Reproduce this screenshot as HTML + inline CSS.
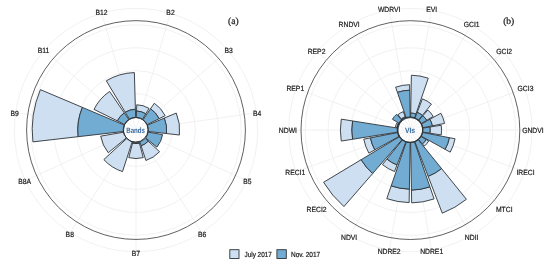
<!DOCTYPE html>
<html><head><meta charset="utf-8"><title>Polar charts</title>
<style>html,body{margin:0;padding:0;background:#fff}svg{display:block}text{text-rendering:geometricPrecision}</style>
</head><body>
<svg width="550" height="269" viewBox="0 0 550 269" font-family="Liberation Sans, Arial, sans-serif">
<rect width="550" height="269" fill="#fff"/>
<circle cx="136.0" cy="130.05" r="105.2" fill="none" stroke="#eeeeee" stroke-width="0.8"/>
<circle cx="136.0" cy="130.05" r="82.3" fill="none" stroke="#eeeeee" stroke-width="0.8"/>
<circle cx="136.0" cy="130.05" r="59.4" fill="none" stroke="#eeeeee" stroke-width="0.8"/>
<circle cx="136.0" cy="130.05" r="36.4" fill="none" stroke="#eeeeee" stroke-width="0.8"/>
<circle cx="136.0" cy="130.05" r="13.5" fill="none" stroke="#eeeeee" stroke-width="0.8"/>
<circle cx="136.0" cy="130.05" r="121.7" fill="none" stroke="#eeeeee" stroke-width="0.8"/>
<line x1="136.0" y1="130.05" x2="170.29" y2="13.28" stroke="#eeeeee" stroke-width="0.8"/>
<line x1="136.0" y1="130.05" x2="227.97" y2="50.35" stroke="#eeeeee" stroke-width="0.8"/>
<line x1="136.0" y1="130.05" x2="256.46" y2="112.73" stroke="#eeeeee" stroke-width="0.8"/>
<line x1="136.0" y1="130.05" x2="246.70" y2="180.61" stroke="#eeeeee" stroke-width="0.8"/>
<line x1="136.0" y1="130.05" x2="201.80" y2="232.43" stroke="#eeeeee" stroke-width="0.8"/>
<line x1="136.0" y1="130.05" x2="136.00" y2="251.75" stroke="#eeeeee" stroke-width="0.8"/>
<line x1="136.0" y1="130.05" x2="70.20" y2="232.43" stroke="#eeeeee" stroke-width="0.8"/>
<line x1="136.0" y1="130.05" x2="25.30" y2="180.61" stroke="#eeeeee" stroke-width="0.8"/>
<line x1="136.0" y1="130.05" x2="15.54" y2="112.73" stroke="#eeeeee" stroke-width="0.8"/>
<line x1="136.0" y1="130.05" x2="44.03" y2="50.35" stroke="#eeeeee" stroke-width="0.8"/>
<line x1="136.0" y1="130.05" x2="101.71" y2="13.28" stroke="#eeeeee" stroke-width="0.8"/>
<path d="M136.54,111.06L136.72,104.76A25.30,25.30 0 0 1 149.06,108.38L145.81,113.78A19.00,19.00 0 0 0 136.54,111.06Z" fill="#cddff1" stroke="#2e3338" stroke-width="0.9" stroke-linejoin="round"/>
<path d="M136.35,117.66L136.54,111.06A19.00,19.00 0 0 1 145.81,113.78L142.40,119.43A12.40,12.40 0 0 0 136.35,117.66Z" fill="#72acd3" stroke="#2e3338" stroke-width="0.9" stroke-linejoin="round"/>
<path d="M150.56,108.75L154.34,103.22A32.50,32.50 0 0 1 165.17,115.71L159.15,118.67A25.80,25.80 0 0 0 150.56,108.75Z" fill="#cddff1" stroke="#2e3338" stroke-width="0.9" stroke-linejoin="round"/>
<path d="M143.00,119.81L150.56,108.75A25.80,25.80 0 0 1 159.15,118.67L147.13,124.58A12.40,12.40 0 0 0 143.00,119.81Z" fill="#72acd3" stroke="#2e3338" stroke-width="0.9" stroke-linejoin="round"/>
<path d="M164.28,118.10L176.25,113.04A43.70,43.70 0 0 1 179.42,135.03L166.50,133.55A30.70,30.70 0 0 0 164.28,118.10Z" fill="#cddff1" stroke="#2e3338" stroke-width="0.9" stroke-linejoin="round"/>
<path d="M147.42,125.22L164.28,118.10A30.70,30.70 0 0 1 166.50,133.55L148.32,131.46A12.40,12.40 0 0 0 147.42,125.22Z" fill="#72acd3" stroke="#2e3338" stroke-width="0.9" stroke-linejoin="round"/>
<path d="M148.22,132.16L162.60,134.65A27.00,27.00 0 0 1 156.90,147.14L145.60,137.90A12.40,12.40 0 0 0 148.22,132.16Z" fill="#72acd3" stroke="#2e3338" stroke-width="0.9" stroke-linejoin="round"/>
<path d="M148.16,141.21L159.58,151.69A32.00,32.00 0 0 1 145.89,160.48L141.10,145.74A16.50,16.50 0 0 0 148.16,141.21Z" fill="#cddff1" stroke="#2e3338" stroke-width="0.9" stroke-linejoin="round"/>
<path d="M145.14,138.43L148.16,141.21A16.50,16.50 0 0 1 141.10,145.74L139.83,141.84A12.40,12.40 0 0 0 145.14,138.43Z" fill="#72acd3" stroke="#2e3338" stroke-width="0.9" stroke-linejoin="round"/>
<path d="M139.43,143.11L143.25,157.61A28.50,28.50 0 0 1 128.75,157.61L132.57,143.11A13.50,13.50 0 0 0 139.43,143.11Z" fill="#cddff1" stroke="#2e3338" stroke-width="0.9" stroke-linejoin="round"/>
<path d="M139.15,142.04L139.43,143.11A13.50,13.50 0 0 1 132.57,143.11L132.85,142.04A12.40,12.40 0 0 0 139.15,142.04Z" fill="#72acd3" stroke="#2e3338" stroke-width="0.9" stroke-linejoin="round"/>
<path d="M132.17,141.84L122.50,171.61A43.70,43.70 0 0 1 103.80,159.60L126.86,138.43A12.40,12.40 0 0 0 132.17,141.84Z" fill="#cddff1" stroke="#2e3338" stroke-width="0.9" stroke-linejoin="round"/>
<path d="M126.40,137.90L108.29,152.71A35.80,35.80 0 0 1 100.72,136.15L123.78,132.16A12.40,12.40 0 0 0 126.40,137.90Z" fill="#cddff1" stroke="#2e3338" stroke-width="0.9" stroke-linejoin="round"/>
<path d="M78.18,136.68L32.88,141.88A103.80,103.80 0 0 1 40.39,89.64L82.39,107.39A58.20,58.20 0 0 0 78.18,136.68Z" fill="#cddff1" stroke="#2e3338" stroke-width="0.9" stroke-linejoin="round"/>
<path d="M123.68,131.46L78.18,136.68A58.20,58.20 0 0 1 82.39,107.39L124.58,125.22A12.40,12.40 0 0 0 123.68,131.46Z" fill="#72acd3" stroke="#2e3338" stroke-width="0.9" stroke-linejoin="round"/>
<path d="M117.33,120.87L94.00,109.40A46.80,46.80 0 0 1 109.58,91.42L124.26,112.88A20.80,20.80 0 0 0 117.33,120.87Z" fill="#cddff1" stroke="#2e3338" stroke-width="0.9" stroke-linejoin="round"/>
<path d="M124.87,124.58L117.33,120.87A20.80,20.80 0 0 1 124.26,112.88L129.00,119.81A12.40,12.40 0 0 0 124.87,124.58Z" fill="#72acd3" stroke="#2e3338" stroke-width="0.9" stroke-linejoin="round"/>
<path d="M125.26,112.24L106.31,80.81A57.50,57.50 0 0 1 134.36,72.57L135.41,109.26A20.80,20.80 0 0 0 125.26,112.24Z" fill="#cddff1" stroke="#2e3338" stroke-width="0.9" stroke-linejoin="round"/>
<path d="M129.60,119.43L125.26,112.24A20.80,20.80 0 0 1 135.41,109.26L135.65,117.66A12.40,12.40 0 0 0 129.60,119.43Z" fill="#72acd3" stroke="#2e3338" stroke-width="0.9" stroke-linejoin="round"/>
<circle cx="136.0" cy="130.05" r="109.4" fill="none" stroke="#444444" stroke-width="0.85"/>
<circle cx="135.6" cy="129.70000000000002" r="12.4" fill="none" stroke="#2e3338" stroke-width="1.0"/>
<text x="135.60" y="132.75" text-anchor="middle" font-size="7.8" font-weight="bold" fill="#3b6ea3" textLength="18.8" lengthAdjust="spacingAndGlyphs">Bands</text>
<text x="170.51" y="15.03" text-anchor="middle" font-size="7.5" fill="#1c1c1c" stroke="#1c1c1c" stroke-width="0.22" textLength="8.30" lengthAdjust="spacingAndGlyphs">B2</text>
<text x="228.58" y="52.50" text-anchor="middle" font-size="7.5" fill="#1c1c1c" stroke="#1c1c1c" stroke-width="0.22" textLength="8.30" lengthAdjust="spacingAndGlyphs">B3</text>
<text x="257.25" y="115.55" text-anchor="middle" font-size="7.5" fill="#1c1c1c" stroke="#1c1c1c" stroke-width="0.22" textLength="8.30" lengthAdjust="spacingAndGlyphs">B4</text>
<text x="247.43" y="184.15" text-anchor="middle" font-size="7.5" fill="#1c1c1c" stroke="#1c1c1c" stroke-width="0.22" textLength="8.30" lengthAdjust="spacingAndGlyphs">B5</text>
<text x="202.23" y="236.52" text-anchor="middle" font-size="7.5" fill="#1c1c1c" stroke="#1c1c1c" stroke-width="0.22" textLength="8.30" lengthAdjust="spacingAndGlyphs">B6</text>
<text x="136.00" y="256.05" text-anchor="middle" font-size="7.5" fill="#1c1c1c" stroke="#1c1c1c" stroke-width="0.22" textLength="8.30" lengthAdjust="spacingAndGlyphs">B7</text>
<text x="69.77" y="236.52" text-anchor="middle" font-size="7.5" fill="#1c1c1c" stroke="#1c1c1c" stroke-width="0.22" textLength="8.30" lengthAdjust="spacingAndGlyphs">B8</text>
<text x="24.57" y="184.15" text-anchor="middle" font-size="7.5" fill="#1c1c1c" stroke="#1c1c1c" stroke-width="0.22" textLength="12.83" lengthAdjust="spacingAndGlyphs">B8A</text>
<text x="14.75" y="115.55" text-anchor="middle" font-size="7.5" fill="#1c1c1c" stroke="#1c1c1c" stroke-width="0.22" textLength="8.30" lengthAdjust="spacingAndGlyphs">B9</text>
<text x="43.42" y="52.50" text-anchor="middle" font-size="7.5" fill="#1c1c1c" stroke="#1c1c1c" stroke-width="0.22" textLength="11.57" lengthAdjust="spacingAndGlyphs">B11</text>
<text x="101.49" y="15.03" text-anchor="middle" font-size="7.5" fill="#1c1c1c" stroke="#1c1c1c" stroke-width="0.22" textLength="12.08" lengthAdjust="spacingAndGlyphs">B12</text>
<circle cx="410.4" cy="130.1" r="105.2" fill="none" stroke="#eeeeee" stroke-width="0.8"/>
<circle cx="410.4" cy="130.1" r="82.3" fill="none" stroke="#eeeeee" stroke-width="0.8"/>
<circle cx="410.4" cy="130.1" r="59.4" fill="none" stroke="#eeeeee" stroke-width="0.8"/>
<circle cx="410.4" cy="130.1" r="36.4" fill="none" stroke="#eeeeee" stroke-width="0.8"/>
<circle cx="410.4" cy="130.1" r="13.5" fill="none" stroke="#eeeeee" stroke-width="0.8"/>
<circle cx="410.4" cy="130.1" r="121.7" fill="none" stroke="#eeeeee" stroke-width="0.8"/>
<line x1="410.4" y1="130.1" x2="431.53" y2="10.25" stroke="#eeeeee" stroke-width="0.8"/>
<line x1="410.4" y1="130.1" x2="471.25" y2="24.70" stroke="#eeeeee" stroke-width="0.8"/>
<line x1="410.4" y1="130.1" x2="503.63" y2="51.87" stroke="#eeeeee" stroke-width="0.8"/>
<line x1="410.4" y1="130.1" x2="524.76" y2="88.48" stroke="#eeeeee" stroke-width="0.8"/>
<line x1="410.4" y1="130.1" x2="532.10" y2="130.10" stroke="#eeeeee" stroke-width="0.8"/>
<line x1="410.4" y1="130.1" x2="524.76" y2="171.72" stroke="#eeeeee" stroke-width="0.8"/>
<line x1="410.4" y1="130.1" x2="503.63" y2="208.33" stroke="#eeeeee" stroke-width="0.8"/>
<line x1="410.4" y1="130.1" x2="471.25" y2="235.50" stroke="#eeeeee" stroke-width="0.8"/>
<line x1="410.4" y1="130.1" x2="431.53" y2="249.95" stroke="#eeeeee" stroke-width="0.8"/>
<line x1="410.4" y1="130.1" x2="389.27" y2="249.95" stroke="#eeeeee" stroke-width="0.8"/>
<line x1="410.4" y1="130.1" x2="349.55" y2="235.50" stroke="#eeeeee" stroke-width="0.8"/>
<line x1="410.4" y1="130.1" x2="317.17" y2="208.33" stroke="#eeeeee" stroke-width="0.8"/>
<line x1="410.4" y1="130.1" x2="296.04" y2="171.72" stroke="#eeeeee" stroke-width="0.8"/>
<line x1="410.4" y1="130.1" x2="288.70" y2="130.10" stroke="#eeeeee" stroke-width="0.8"/>
<line x1="410.4" y1="130.1" x2="296.04" y2="88.48" stroke="#eeeeee" stroke-width="0.8"/>
<line x1="410.4" y1="130.1" x2="317.17" y2="51.87" stroke="#eeeeee" stroke-width="0.8"/>
<line x1="410.4" y1="130.1" x2="349.55" y2="24.70" stroke="#eeeeee" stroke-width="0.8"/>
<line x1="410.4" y1="130.1" x2="389.27" y2="10.25" stroke="#eeeeee" stroke-width="0.8"/>
<path d="M410.70,113.10L411.36,75.21A54.90,54.90 0 0 1 428.27,78.19L415.93,114.03A17.00,17.00 0 0 0 410.70,113.10Z" fill="#cddff1" stroke="#2e3338" stroke-width="0.9" stroke-linejoin="round"/>
<path d="M410.62,117.70L410.70,113.10A17.00,17.00 0 0 1 415.93,114.03L414.44,118.38A12.40,12.40 0 0 0 410.62,117.70Z" fill="#72acd3" stroke="#2e3338" stroke-width="0.9" stroke-linejoin="round"/>
<path d="M417.21,112.36L422.41,98.83A33.50,33.50 0 0 1 431.48,104.07L422.36,115.33A19.00,19.00 0 0 0 417.21,112.36Z" fill="#cddff1" stroke="#2e3338" stroke-width="0.9" stroke-linejoin="round"/>
<path d="M414.84,118.52L417.21,112.36A19.00,19.00 0 0 1 422.36,115.33L418.20,120.46A12.40,12.40 0 0 0 414.84,118.52Z" fill="#72acd3" stroke="#2e3338" stroke-width="0.9" stroke-linejoin="round"/>
<path d="M422.87,115.76L427.85,110.02A26.60,26.60 0 0 1 433.20,116.40L426.69,120.31A19.00,19.00 0 0 0 422.87,115.76Z" fill="#cddff1" stroke="#2e3338" stroke-width="0.9" stroke-linejoin="round"/>
<path d="M418.54,120.74L422.87,115.76A19.00,19.00 0 0 1 426.69,120.31L421.03,123.71A12.40,12.40 0 0 0 418.54,120.74Z" fill="#72acd3" stroke="#2e3338" stroke-width="0.9" stroke-linejoin="round"/>
<path d="M429.90,119.29L440.84,113.23A34.80,34.80 0 0 1 444.56,123.46L432.29,125.84A22.30,22.30 0 0 0 429.90,119.29Z" fill="#cddff1" stroke="#2e3338" stroke-width="0.9" stroke-linejoin="round"/>
<path d="M421.25,124.09L429.90,119.29A22.30,22.30 0 0 1 432.29,125.84L422.57,127.73A12.40,12.40 0 0 0 421.25,124.09Z" fill="#72acd3" stroke="#2e3338" stroke-width="0.9" stroke-linejoin="round"/>
<path d="M429.86,127.02L441.22,125.22A31.20,31.20 0 0 1 441.22,134.98L429.86,133.18A19.70,19.70 0 0 0 429.86,127.02Z" fill="#cddff1" stroke="#2e3338" stroke-width="0.9" stroke-linejoin="round"/>
<path d="M422.65,128.16L429.86,127.02A19.70,19.70 0 0 1 429.86,133.18L422.65,132.04A12.40,12.40 0 0 0 422.65,128.16Z" fill="#72acd3" stroke="#2e3338" stroke-width="0.9" stroke-linejoin="round"/>
<path d="M449.37,137.68L455.06,138.78A45.50,45.50 0 0 1 450.20,152.16L445.12,149.35A39.70,39.70 0 0 0 449.37,137.68Z" fill="#cddff1" stroke="#2e3338" stroke-width="0.9" stroke-linejoin="round"/>
<path d="M422.57,132.47L449.37,137.68A39.70,39.70 0 0 1 445.12,149.35L421.25,136.11A12.40,12.40 0 0 0 422.57,132.47Z" fill="#72acd3" stroke="#2e3338" stroke-width="0.9" stroke-linejoin="round"/>
<path d="M426.09,139.53L428.66,141.07A21.30,21.30 0 0 1 424.37,146.18L422.41,143.91A18.30,18.30 0 0 0 426.09,139.53Z" fill="#cddff1" stroke="#2e3338" stroke-width="0.9" stroke-linejoin="round"/>
<path d="M421.03,136.49L426.09,139.53A18.30,18.30 0 0 1 422.41,143.91L418.54,139.46A12.40,12.40 0 0 0 421.03,136.49Z" fill="#72acd3" stroke="#2e3338" stroke-width="0.9" stroke-linejoin="round"/>
<path d="M441.55,168.57L466.41,199.27A89.00,89.00 0 0 1 442.29,213.19L428.14,176.31A49.50,49.50 0 0 0 441.55,168.57Z" fill="#cddff1" stroke="#2e3338" stroke-width="0.9" stroke-linejoin="round"/>
<path d="M418.20,139.74L441.55,168.57A49.50,49.50 0 0 1 428.14,176.31L414.84,141.68A12.40,12.40 0 0 0 418.20,139.74Z" fill="#72acd3" stroke="#2e3338" stroke-width="0.9" stroke-linejoin="round"/>
<path d="M429.93,186.83L434.10,198.93A72.80,72.80 0 0 1 411.67,202.89L411.45,190.09A60.00,60.00 0 0 0 429.93,186.83Z" fill="#cddff1" stroke="#2e3338" stroke-width="0.9" stroke-linejoin="round"/>
<path d="M414.44,141.82L429.93,186.83A60.00,60.00 0 0 1 411.45,190.09L410.62,142.50A12.40,12.40 0 0 0 414.44,141.82Z" fill="#72acd3" stroke="#2e3338" stroke-width="0.9" stroke-linejoin="round"/>
<path d="M409.37,189.09L409.13,202.59A72.50,72.50 0 0 1 386.80,198.65L391.19,185.89A59.00,59.00 0 0 0 409.37,189.09Z" fill="#cddff1" stroke="#2e3338" stroke-width="0.9" stroke-linejoin="round"/>
<path d="M410.18,142.50L409.37,189.09A59.00,59.00 0 0 1 391.19,185.89L406.36,141.82A12.40,12.40 0 0 0 410.18,142.50Z" fill="#72acd3" stroke="#2e3338" stroke-width="0.9" stroke-linejoin="round"/>
<path d="M397.03,164.92L394.49,171.55A44.40,44.40 0 0 1 382.46,164.61L386.93,159.09A37.30,37.30 0 0 0 397.03,164.92Z" fill="#cddff1" stroke="#2e3338" stroke-width="0.9" stroke-linejoin="round"/>
<path d="M405.96,141.68L397.03,164.92A37.30,37.30 0 0 1 386.93,159.09L402.60,139.74A12.40,12.40 0 0 0 405.96,141.68Z" fill="#72acd3" stroke="#2e3338" stroke-width="0.9" stroke-linejoin="round"/>
<path d="M372.68,173.50L343.94,206.55A101.30,101.30 0 0 1 323.57,182.27L361.11,159.71A57.50,57.50 0 0 0 372.68,173.50Z" fill="#cddff1" stroke="#2e3338" stroke-width="0.9" stroke-linejoin="round"/>
<path d="M402.26,139.46L372.68,173.50A57.50,57.50 0 0 1 361.11,159.71L399.77,136.49A12.40,12.40 0 0 0 402.26,139.46Z" fill="#72acd3" stroke="#2e3338" stroke-width="0.9" stroke-linejoin="round"/>
<path d="M374.80,149.83L368.86,153.13A47.50,47.50 0 0 1 363.77,139.16L370.45,137.87A40.70,40.70 0 0 0 374.80,149.83Z" fill="#cddff1" stroke="#2e3338" stroke-width="0.9" stroke-linejoin="round"/>
<path d="M399.55,136.11L374.80,149.83A40.70,40.70 0 0 1 370.45,137.87L398.23,132.47A12.40,12.40 0 0 0 399.55,136.11Z" fill="#72acd3" stroke="#2e3338" stroke-width="0.9" stroke-linejoin="round"/>
<path d="M352.62,139.25L341.26,141.05A70.00,70.00 0 0 1 341.26,119.15L352.62,120.95A58.50,58.50 0 0 0 352.62,139.25Z" fill="#cddff1" stroke="#2e3338" stroke-width="0.9" stroke-linejoin="round"/>
<path d="M398.15,132.04L352.62,139.25A58.50,58.50 0 0 1 352.62,120.95L398.15,128.16A12.40,12.40 0 0 0 398.15,132.04Z" fill="#72acd3" stroke="#2e3338" stroke-width="0.9" stroke-linejoin="round"/>
<path d="M397.05,127.50L395.38,127.18A15.30,15.30 0 0 1 397.02,122.68L398.51,123.51A13.60,13.60 0 0 0 397.05,127.50Z" fill="#cddff1" stroke="#2e3338" stroke-width="0.9" stroke-linejoin="round"/>
<path d="M398.23,127.73L397.05,127.50A13.60,13.60 0 0 1 398.51,123.51L399.55,124.09A12.40,12.40 0 0 0 398.23,127.73Z" fill="#72acd3" stroke="#2e3338" stroke-width="0.9" stroke-linejoin="round"/>
<path d="M399.77,123.71L392.40,119.28A21.00,21.00 0 0 1 396.62,114.25L402.26,120.74A12.40,12.40 0 0 0 399.77,123.71Z" fill="#72acd3" stroke="#2e3338" stroke-width="0.9" stroke-linejoin="round"/>
<path d="M401.40,118.99L397.94,114.71A19.80,19.80 0 0 1 403.30,111.62L405.28,116.75A14.30,14.30 0 0 0 401.40,118.99Z" fill="#cddff1" stroke="#2e3338" stroke-width="0.9" stroke-linejoin="round"/>
<path d="M402.60,120.46L401.40,118.99A14.30,14.30 0 0 1 405.28,116.75L405.96,118.52A12.40,12.40 0 0 0 402.60,120.46Z" fill="#72acd3" stroke="#2e3338" stroke-width="0.9" stroke-linejoin="round"/>
<path d="M397.41,92.37L395.62,87.17A45.40,45.40 0 0 1 409.61,84.71L409.70,90.21A39.90,39.90 0 0 0 397.41,92.37Z" fill="#cddff1" stroke="#2e3338" stroke-width="0.9" stroke-linejoin="round"/>
<path d="M406.36,118.38L397.41,92.37A39.90,39.90 0 0 1 409.70,90.21L410.18,117.70A12.40,12.40 0 0 0 406.36,118.38Z" fill="#72acd3" stroke="#2e3338" stroke-width="0.9" stroke-linejoin="round"/>
<circle cx="410.4" cy="130.1" r="109.4" fill="none" stroke="#444444" stroke-width="0.85"/>
<circle cx="410.0" cy="129.7" r="12.7" fill="none" stroke="#2e3338" stroke-width="1.2"/>
<text x="410.00" y="132.80" text-anchor="middle" font-size="7.8" font-weight="bold" fill="#3b6ea3" textLength="10.2" lengthAdjust="spacingAndGlyphs">VIs</text>
<text x="431.67" y="11.97" text-anchor="middle" font-size="7.5" fill="#1c1c1c" stroke="#1c1c1c" stroke-width="0.22" textLength="10.94" lengthAdjust="spacingAndGlyphs">EVI</text>
<text x="471.65" y="26.58" text-anchor="middle" font-size="7.5" fill="#1c1c1c" stroke="#1c1c1c" stroke-width="0.22" textLength="15.84" lengthAdjust="spacingAndGlyphs">GCI1</text>
<text x="504.24" y="54.04" text-anchor="middle" font-size="7.5" fill="#1c1c1c" stroke="#1c1c1c" stroke-width="0.22" textLength="15.84" lengthAdjust="spacingAndGlyphs">GCI2</text>
<text x="525.51" y="91.03" text-anchor="middle" font-size="7.5" fill="#1c1c1c" stroke="#1c1c1c" stroke-width="0.22" textLength="15.84" lengthAdjust="spacingAndGlyphs">GCI3</text>
<text x="532.90" y="133.10" text-anchor="middle" font-size="7.5" fill="#1c1c1c" stroke="#1c1c1c" stroke-width="0.22" textLength="21.50" lengthAdjust="spacingAndGlyphs">GNDVI</text>
<text x="525.51" y="175.17" text-anchor="middle" font-size="7.5" fill="#1c1c1c" stroke="#1c1c1c" stroke-width="0.22" textLength="18.10" lengthAdjust="spacingAndGlyphs">IRECI</text>
<text x="504.24" y="212.16" text-anchor="middle" font-size="7.5" fill="#1c1c1c" stroke="#1c1c1c" stroke-width="0.22" textLength="16.59" lengthAdjust="spacingAndGlyphs">MTCI</text>
<text x="471.65" y="239.62" text-anchor="middle" font-size="7.5" fill="#1c1c1c" stroke="#1c1c1c" stroke-width="0.22" textLength="13.58" lengthAdjust="spacingAndGlyphs">NDII</text>
<text x="431.67" y="254.23" text-anchor="middle" font-size="7.5" fill="#1c1c1c" stroke="#1c1c1c" stroke-width="0.22" textLength="23.01" lengthAdjust="spacingAndGlyphs">NDRE1</text>
<text x="389.13" y="254.23" text-anchor="middle" font-size="7.5" fill="#1c1c1c" stroke="#1c1c1c" stroke-width="0.22" textLength="23.01" lengthAdjust="spacingAndGlyphs">NDRE2</text>
<text x="349.15" y="239.62" text-anchor="middle" font-size="7.5" fill="#1c1c1c" stroke="#1c1c1c" stroke-width="0.22" textLength="16.22" lengthAdjust="spacingAndGlyphs">NDVI</text>
<text x="316.56" y="212.16" text-anchor="middle" font-size="7.5" fill="#1c1c1c" stroke="#1c1c1c" stroke-width="0.22" textLength="19.99" lengthAdjust="spacingAndGlyphs">RECI2</text>
<text x="295.29" y="175.17" text-anchor="middle" font-size="7.5" fill="#1c1c1c" stroke="#1c1c1c" stroke-width="0.22" textLength="19.99" lengthAdjust="spacingAndGlyphs">RECI1</text>
<text x="287.90" y="133.10" text-anchor="middle" font-size="7.5" fill="#1c1c1c" stroke="#1c1c1c" stroke-width="0.22" textLength="18.10" lengthAdjust="spacingAndGlyphs">NDWI</text>
<text x="295.29" y="91.03" text-anchor="middle" font-size="7.5" fill="#1c1c1c" stroke="#1c1c1c" stroke-width="0.22" textLength="17.73" lengthAdjust="spacingAndGlyphs">REP1</text>
<text x="316.56" y="54.04" text-anchor="middle" font-size="7.5" fill="#1c1c1c" stroke="#1c1c1c" stroke-width="0.22" textLength="17.73" lengthAdjust="spacingAndGlyphs">REP2</text>
<text x="349.15" y="26.58" text-anchor="middle" font-size="7.5" fill="#1c1c1c" stroke="#1c1c1c" stroke-width="0.22" textLength="21.12" lengthAdjust="spacingAndGlyphs">RNDVI</text>
<text x="389.13" y="11.97" text-anchor="middle" font-size="7.5" fill="#1c1c1c" stroke="#1c1c1c" stroke-width="0.22" textLength="22.50" lengthAdjust="spacingAndGlyphs">WDRVI</text>
<text x="228" y="24" font-family="Liberation Serif, Times New Roman, serif" font-size="9.5" fill="#222" stroke="#222" stroke-width="0.25">(a)</text>
<text x="503.2" y="24" font-family="Liberation Serif, Times New Roman, serif" font-size="9.5" fill="#222" stroke="#222" stroke-width="0.25">(b)</text>
<rect x="229.8" y="249.7" width="9.2" height="8.8" fill="#cddff1" stroke="#2e3338" stroke-width="0.9"/>
<text x="244.5" y="256.5" font-size="7.3" fill="#1c1c1c" stroke="#1c1c1c" stroke-width="0.22" textLength="27.3" lengthAdjust="spacingAndGlyphs">July 2017</text>
<rect x="276.9" y="249.7" width="9.4" height="8.8" fill="#72acd3" stroke="#2e3338" stroke-width="0.9"/>
<text x="291" y="256.5" font-size="7.3" fill="#1c1c1c" stroke="#1c1c1c" stroke-width="0.22" textLength="29.2" lengthAdjust="spacingAndGlyphs">Nov. 2017</text>
</svg>
</body></html>
